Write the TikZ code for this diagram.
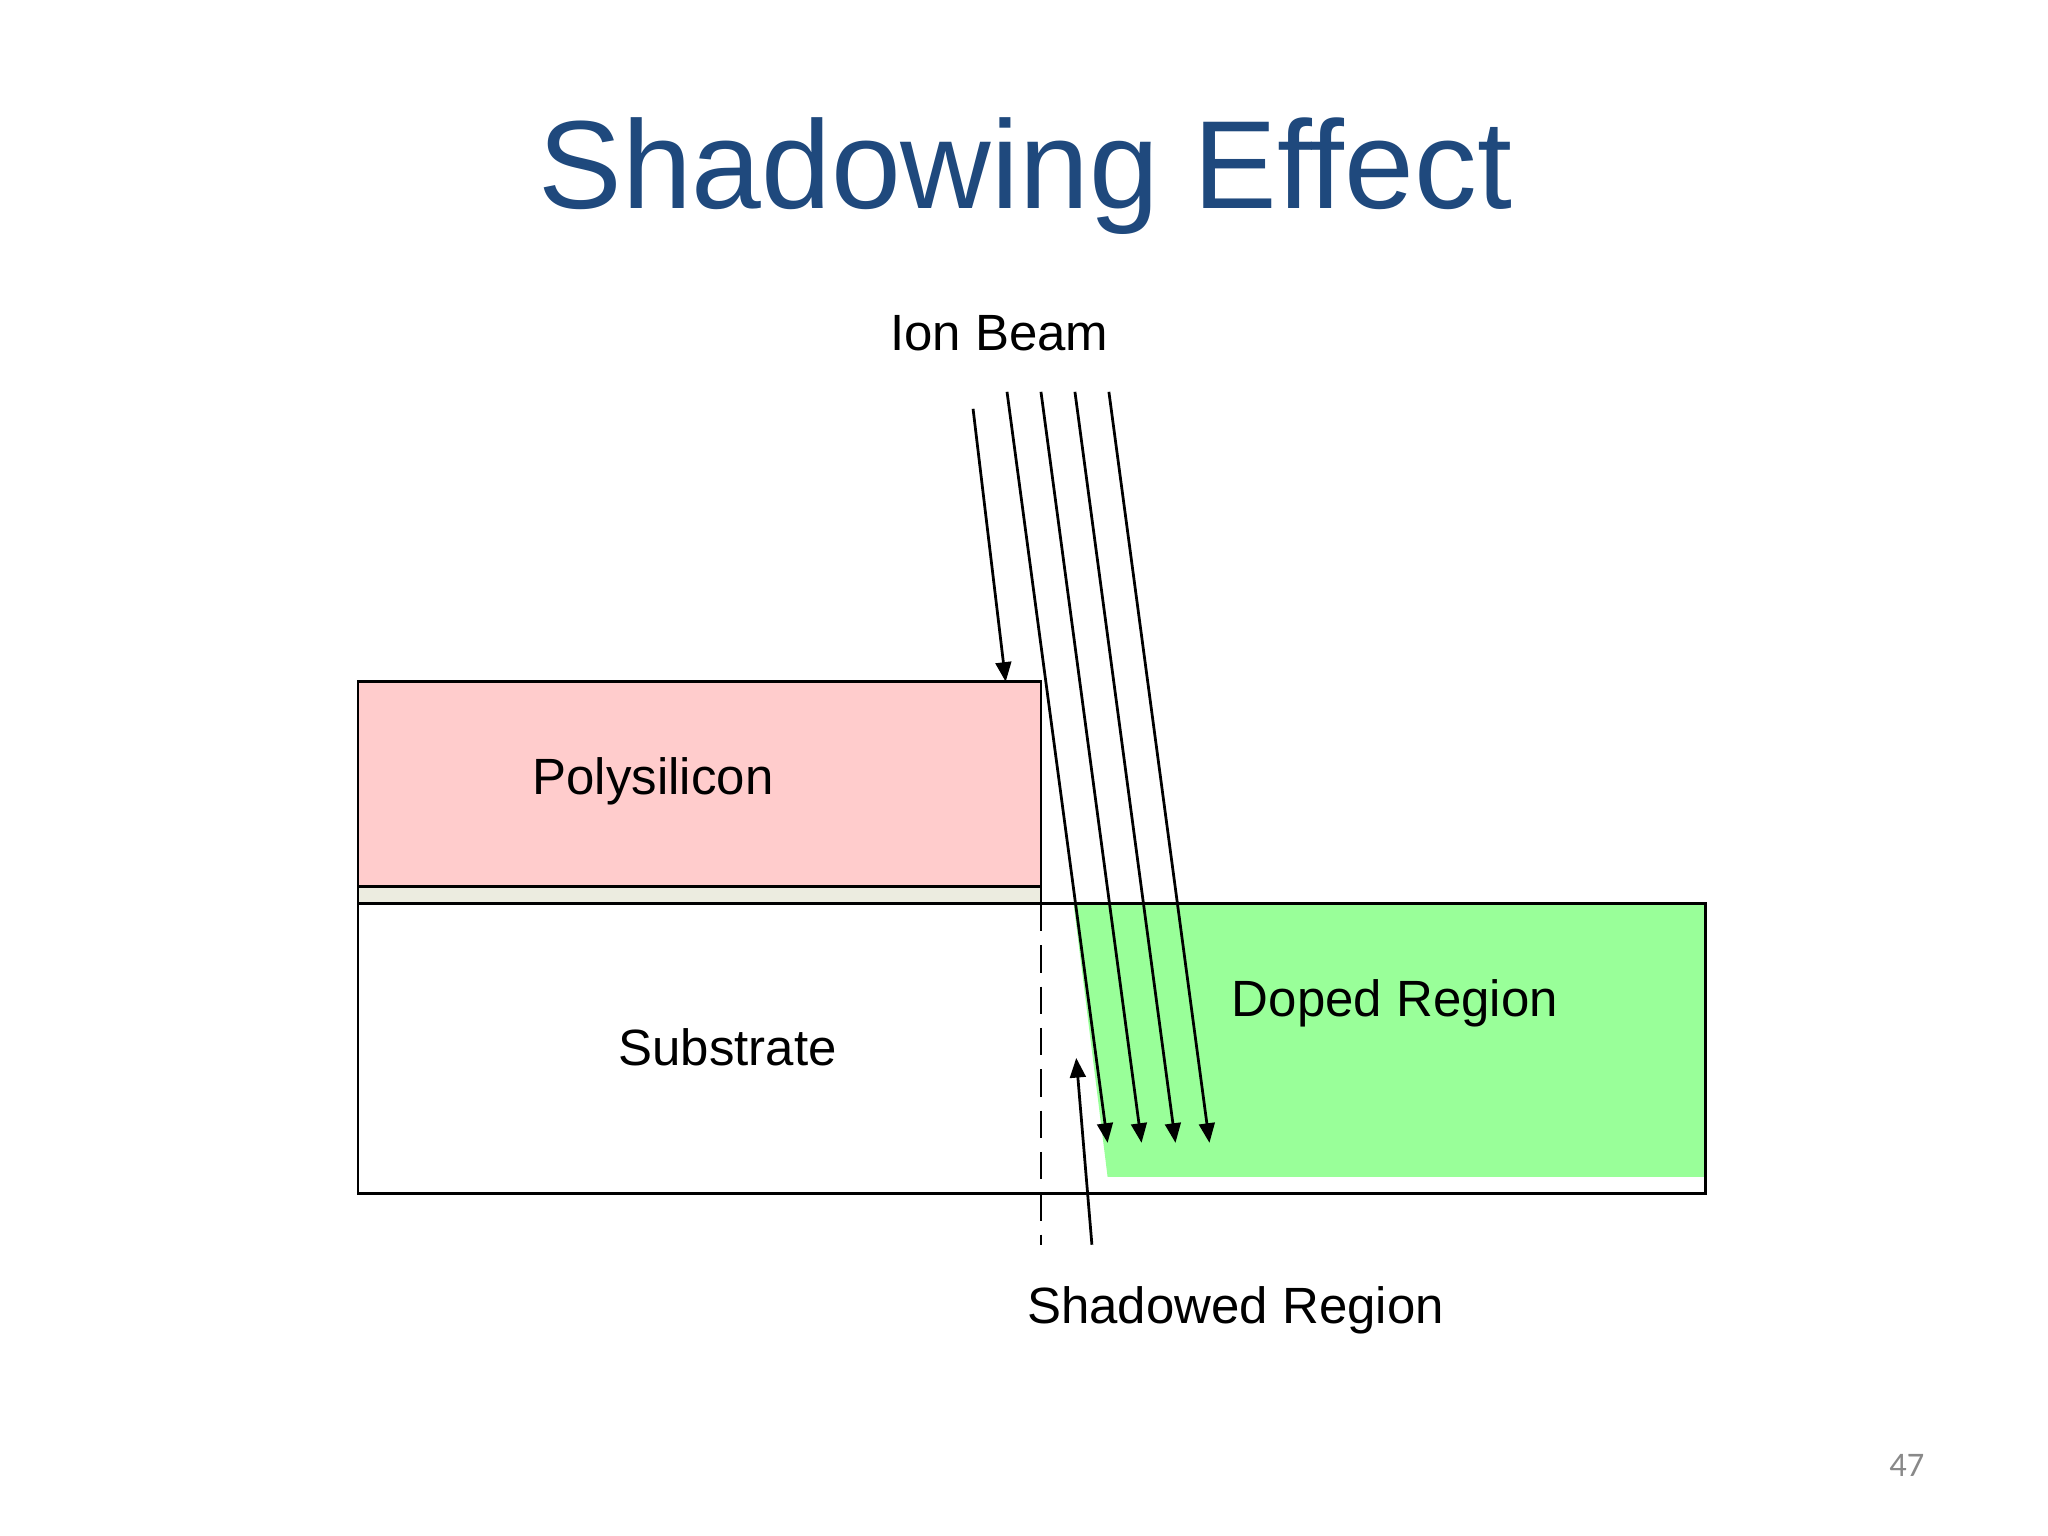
\documentclass[tikz,border=0pt]{standalone}
\usepackage{fontspec}
\setmainfont{Liberation Sans}
\newfontfamily\numfont{Carlito}
\usetikzlibrary{arrows.meta}
\definecolor{titleblue}{HTML}{1F497D}
\definecolor{polypink}{HTML}{FFCCCC}
\definecolor{oxidegrey}{HTML}{ECECE0}
\definecolor{dopedgreen}{HTML}{99FF99}
\definecolor{pagegrey}{HTML}{898989}
\begin{document}
\begin{tikzpicture}[x=0.01cm,y=-0.01cm,
  lbl/.style={font=\fontsize{11.1pt}{13pt}\selectfont,anchor=base,inner sep=0pt},
  layer/.style={draw=black,line width=0.6pt},
  beam/.style={line width=0.6pt,-{Triangle[length=0.15cm,width=0.12cm]}}]
\useasboundingbox[fill=white] (0,0) rectangle (1568,1176);
% title
\node[font=\fontsize{27.3pt}{33pt}\selectfont,text=titleblue,anchor=base,inner sep=0pt] (title) at (785,160) {Shadowing Effect};
% layers
\fill[dopedgreen] (822,692) -- (1306,692) -- (1306,901) -- (848,901) -- cycle;
\draw[layer] (274,692) rectangle (1306,914);
\draw[layer,fill=polypink] (274,522) rectangle (797,679);
\draw[layer,fill=oxidegrey] (274,679) rectangle (797,692);
\draw[line width=0.6pt,dash pattern=on 6pt off 3pt] (797,692) -- (797,953);
% labels
\node[lbl] (ion) at (765,268) {Ion Beam};
\node[lbl] (poly) at (500,608) {Polysilicon};
\node[lbl] (sub) at (557,816) {Substrate};
\node[lbl] (doped) at (1068,778) {Doped Region};
\node[lbl] (shad) at (946,1013) {Shadowed Region};
\node[font=\numfont\fontsize{7.5pt}{9pt}\selectfont,text=pagegrey,inner sep=0pt] (num) at (1460,1122) {47};
% beam coordinates
\coordinate (s0) at (745,313); \coordinate (e0) at (770,522);
\coordinate (s1) at (771,300); \coordinate (e1) at (848,875);
\coordinate (s2) at (797,300); \coordinate (e2) at (874,875);
\coordinate (s3) at (823,300); \coordinate (e3) at (900,875);
\coordinate (s4) at (849,300); \coordinate (e4) at (926,875);
\coordinate (sh0) at (836,953); \coordinate (sh1) at (824,810);
\foreach \i in {0,...,4} \draw[beam] (s\i) -- (e\i);
\draw[beam] (sh0) -- (sh1);
\end{tikzpicture}
\end{document}
